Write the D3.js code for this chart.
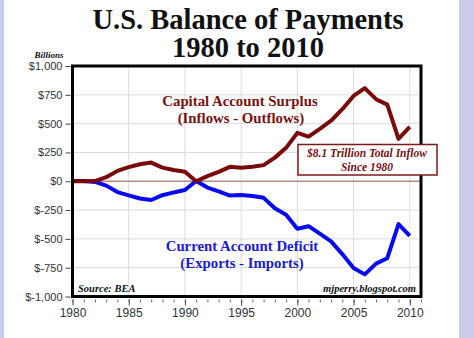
<!DOCTYPE html>
<html><head><meta charset="utf-8">
<script src="https://cdn.jsdelivr.net/npm/d3@7"></script>
<style>
html,body{margin:0;padding:0;background:#fff;}
svg{display:block;}
</style></head>
<body>
<svg id="c" width="474" height="338"></svg>
<script>
const years = d3.range(1980, 2011);
const capitalSurplus = [0, 0, 2, 35, 90, 122, 148, 162, 118, 98, 82, 0, 45, 82, 125, 118, 125, 140, 205, 290, 420, 388, 455, 525, 625, 740, 808, 712, 665, 368, 472];
const currentDeficit = [2, 3, -6, -38, -94, -122, -150, -163, -121, -97, -76, 2, -55, -88, -124, -120, -128, -144, -235, -290, -412, -390, -455, -522, -632, -752, -808, -715, -668, -372, -474];
const yTicks = [1000, 750, 500, 250, 0, -250, -500, -750, -1000];
const xTicks = [1980, 1985, 1990, 1995, 2000, 2005, 2010];

const svg = d3.select("#c");
// side bands
svg.append("rect").attr("x",0).attr("y",0).attr("width",4).attr("height",338).attr("fill","#cbcbec");
svg.append("rect").attr("x",459).attr("y",0).attr("width",15).attr("height",338).attr("fill","#cbcbec");

const x = d3.scaleLinear().domain([1980, 2011]).range([72.5, 421]);
const y = d3.scaleLinear().domain([-1000, 1000]).range([296.5, 66]);

const serif = "'Liberation Serif', 'DejaVu Serif', serif";
const sans = "'Liberation Sans', Arial, sans-serif";

// Title
svg.append("text").attr("x",248).attr("y",29).attr("text-anchor","middle")
  .attr("font-family",serif).attr("font-weight","bold").attr("font-size",28.5).attr("fill","#111")
  .text("U.S. Balance of Payments");
svg.append("text").attr("x",248).attr("y",57).attr("text-anchor","middle")
  .attr("font-family",serif).attr("font-weight","bold").attr("font-size",28.5).attr("fill","#111")
  .text("1980 to 2010");
svg.append("text").attr("x",49).attr("y",58).attr("text-anchor","middle")
  .attr("font-family",serif).attr("font-weight","bold").attr("font-style","italic").attr("font-size",9).attr("fill","#111")
  .text("Billions");

// gridlines
const g = svg.append("g");
g.selectAll("line.vg").data(xTicks.filter(d=>d>1980)).join("line")
  .attr("x1",d=>x(d)).attr("x2",d=>x(d)).attr("y1",y(1000)).attr("y2",y(-1000))
  .attr("stroke","#dcdcdc").attr("stroke-width",1);
g.selectAll("line.hg").data(yTicks.filter(d=>d!==0)).join("line")
  .attr("x1",x(1980)).attr("x2",x(2011)).attr("y1",d=>y(d)).attr("y2",d=>y(d))
  .attr("stroke","#dcdcdc").attr("stroke-width",1);
// zero line
g.append("line").attr("x1",x(1980)).attr("x2",x(2011)).attr("y1",y(0)).attr("y2",y(0))
  .attr("stroke","#b78a8a").attr("stroke-width",1.5);

// axes
const fmt = d3.format(",");
const yAxis = d3.axisLeft(y).tickValues(yTicks).tickSize(5).tickPadding(3)
  .tickFormat(d => "$" + fmt(d).replace("\u2212","-"));
const ya = svg.append("g").attr("transform",`translate(${x(1980)-2},0)`).call(yAxis);
ya.select(".domain").remove();
ya.selectAll("line").attr("stroke","#444");
ya.selectAll("text").attr("font-family",sans).attr("font-size",11).attr("fill","#333");

const xAxisMinor = d3.axisBottom(x).tickValues(d3.range(1980, 2012)).tickSize(3).tickFormat("");
const xm = svg.append("g").attr("transform",`translate(0,${y(-1000)+3})`).call(xAxisMinor);
xm.select(".domain").remove();
xm.selectAll("line").attr("stroke","#666");
const xAxis = d3.axisBottom(x).tickValues(xTicks).tickSize(6).tickPadding(3).tickFormat(d3.format("d"));
const xa = svg.append("g").attr("transform",`translate(0,${y(-1000)+3})`).call(xAxis);
xa.select(".domain").remove();
xa.selectAll("line").attr("stroke","#444");
xa.selectAll("text").attr("font-family",sans).attr("font-size",12).attr("fill","#333");

// lines
const line = d3.line().x((d,i)=>x(years[i])).y(d=>y(d));
svg.append("path").datum(currentDeficit).attr("d",line).attr("fill","none")
  .attr("stroke","#0a0af0").attr("stroke-width",4).attr("stroke-linejoin","round");
svg.append("path").datum(capitalSurplus).attr("d",line).attr("fill","none")
  .attr("stroke","#7a0a0a").attr("stroke-width",4).attr("stroke-linejoin","round");

// frame
svg.append("rect").attr("x",x(1980)).attr("y",y(1000)).attr("width",x(2011)-x(1980)).attr("height",y(-1000)-y(1000))
  .attr("fill","none").attr("stroke","#000").attr("stroke-width",3);

// annotations
function txt(t, xx, yy, opts){
  const e = svg.append("text").attr("x",xx).attr("y",yy).attr("text-anchor",opts.anchor||"middle")
    .attr("font-family",serif).attr("font-weight","bold").attr("font-size",opts.size)
    .attr("fill",opts.fill).text(t);
  if(opts.italic) e.attr("font-style","italic");
  return e;
}
txt("Capital Account Surplus", 240, 106, {size:14.8, fill:"#7a1010"});
txt("(Inflows - Outflows)", 241, 122.5, {size:14.8, fill:"#7a1010"});
txt("Current Account Deficit", 242, 251, {size:14.8, fill:"#1a1ad0"});
txt("(Exports - Imports)", 242, 267.5, {size:14.8, fill:"#1a1ad0"});
txt("Source: BEA", 78, 292, {size:10.5, fill:"#111", italic:true, anchor:"start"});
txt("mjperry.blogspot.com", 416, 292, {size:10.5, fill:"#111", italic:true, anchor:"end"});

svg.append("rect").attr("x",298).attr("y",144.5).attr("width",139).attr("height",30.5)
  .attr("fill","#fff").attr("stroke","#7a1a1a").attr("stroke-width",1.5);
txt("$8.1 Trillion Total Inflow", 367, 157, {size:11.5, fill:"#7a1010", italic:true});
txt("Since 1980", 367, 170.5, {size:11.5, fill:"#7a1010", italic:true});
</script>
</body></html>
